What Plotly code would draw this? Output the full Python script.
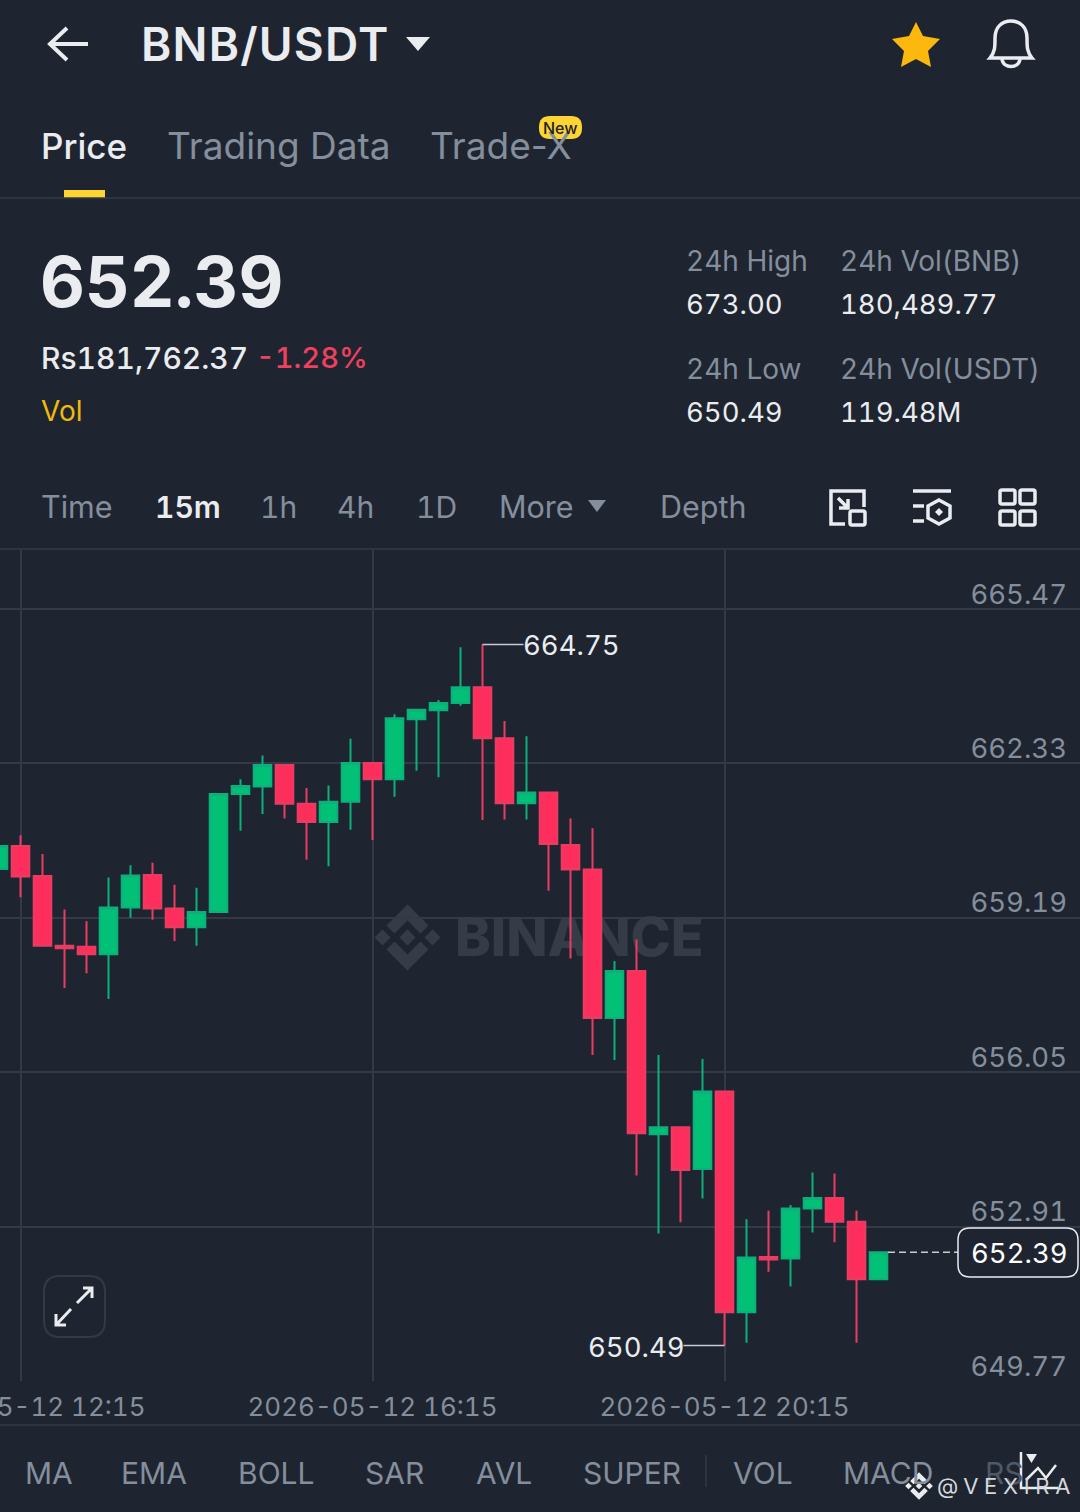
import re
import pandas as pd
import plotly.graph_objects as go

W = 1080
H = 1512

# 15m candles, the first one is cut by the left edge
opens = [660.18, 660.65, 660.04, 658.62, 658.60, 658.45, 659.40, 660.06, 659.38, 659.00, 659.31,
         661.71, 661.86, 662.30, 661.51, 661.14, 661.55, 662.34, 662.01, 663.23, 663.41,
         663.56, 663.88, 662.84, 661.52, 661.74, 660.67, 660.17, 657.15, 658.11, 654.79,
         654.93, 654.08, 655.66, 651.17, 652.29, 652.26, 653.28, 653.49, 653.01, 651.84]
highs = [660.65, 660.87, 660.49, 659.36, 659.12, 660.01, 660.26, 660.31, 659.86, 659.80, 661.73,
         662.01, 662.49, 662.30, 661.83, 661.88, 662.83, 662.34, 663.33, 663.42, 663.62,
         664.69, 664.75, 663.19, 662.88, 661.74, 661.21, 661.01, 658.31, 658.75, 656.40,
         654.93, 656.32, 655.66, 653.06, 653.23, 653.35, 654.01, 653.99, 653.23, 652.39]
lows = [660.18, 659.61, 658.62, 657.76, 658.06, 657.54, 659.19, 659.15, 658.72, 658.62, 659.31,
        660.96, 661.30, 661.21, 660.37, 660.24, 660.98, 660.77, 661.65, 662.18, 662.05,
        663.50, 661.18, 661.19, 661.19, 659.74, 658.36, 656.40, 656.30, 653.95, 652.77,
        653.00, 653.48, 650.49, 650.55, 651.99, 651.69, 652.79, 652.59, 650.55, 651.84]
closes = [660.65, 660.03, 658.62, 658.57, 658.45, 659.40, 660.05, 659.38, 659.00, 659.31, 661.71,
          661.87, 662.30, 661.51, 661.14, 661.55, 662.34, 662.01, 663.25, 663.42, 663.56,
          663.88, 662.84, 661.52, 661.74, 660.69, 660.17, 657.15, 658.11, 654.81, 654.93,
          654.06, 655.66, 651.17, 652.28, 652.24, 653.28, 653.49, 653.01, 651.84, 652.39]

times = pd.date_range("2026-05-12 12:00", periods=len(opens), freq="15min")

price_ticks = [665.47, 662.33, 659.19, 656.05, 652.91, 649.77]
price_labels = ["665.47", "662.33", "659.19", "656.05", "652.91", "649.77"]
time_ticks = ["2026-05-12 12:15", "2026-05-12 16:15", "2026-05-12 20:15"]

last_price = 652.39
top_price = 664.75
bottom_price = 650.49

# header stats
stat_names = ["24h High", "24h Low", "24h Vol(BNB)", "24h Vol(USDT)"]
stat_values = ["673.00", "650.49", "180,489.77", "119.48M"]

BG = "#1E2530"
GRID = "#333A46"
GRAY = "#848E9C"
WHITE = "#EAECEF"
UP = "#02C076"
DOWN = "#FD2E5B"
UP_WICK = "#0CB07B"
DOWN_WICK = "#EA3C62"
YELLOW = "#FCD535"
FONT = "Inter"

# screen pixel per candle is 22, candle of 12:15 sits at x=20.5
x_start = pd.Timestamp("2026-05-12 12:15") - pd.Timedelta(minutes=20.5 / 22 * 15)
x_end = pd.Timestamp("2026-05-12 12:15") + pd.Timedelta(minutes=(W - 20.5) / 22 * 15)
y_range = [649.77, 666.67]


def px(x):
    return x / W


def py(y):
    return 1 - y / H


def to_paper(d):
    # path written in screen pixels -> paper coordinates
    out = []
    is_x = True
    for tok in re.findall(r"[MLCQZ]|-?\d+\.?\d*", d):
        if tok in "MLCQZ":
            out.append(tok)
            is_x = True
        else:
            out.append(str(round(px(float(tok)), 5) if is_x else round(py(float(tok)), 5)))
            is_x = not is_x
    return " ".join(out)


def round_box(x0, y0, x1, y1, r):
    return (f"M {x0+r} {y0} L {x1-r} {y0} Q {x1} {y0} {x1} {y0+r} L {x1} {y1-r} Q {x1} {y1} {x1-r} {y1} "
            f"L {x0+r} {y1} Q {x0} {y1} {x0} {y1-r} L {x0} {y0+r} Q {x0} {y0} {x0+r} {y0} Z")


shapes = []
annotations = []


def styled(text, ls=0, tnum=False):
    css = ""
    if ls:
        css += f"letter-spacing:{ls}px;"
    if tnum:
        # tabular digits like the app font
        css += "font-feature-settings:'tnum';"
    return f'<span style="{css}">{text}</span>' if css else text


def path(d, fill=None, line=None, width=0, layer="above"):
    shapes.append(dict(type="path", path=to_paper(d), xref="paper", yref="paper", layer=layer,
                       fillcolor=fill or "rgba(0,0,0,0)",
                       line=dict(color=line or "rgba(0,0,0,0)", width=width)))


def label(text, x, y, size, color, anchor="left", weight=400, ls=0, tnum=False):
    annotations.append(dict(text=styled(text, ls, tnum), x=px(x), y=py(y), xref="paper", yref="paper",
                            showarrow=False, xanchor=anchor, yanchor="middle", borderpad=0, borderwidth=0,
                            font=dict(family=FONT, size=size, color=color, weight=weight)))


def logo(cx, cy, s, color, layer="above"):
    parts = [[(0, -33), (21, -12), (13, -4), (0, -17), (-13, -4), (-21, -12)],
             [(0, 33), (21, 12), (13, 4), (0, 17), (-13, 4), (-21, 12)],
             [(0, -8), (8, 0), (0, 8), (-8, 0)],
             [(-25, -8), (-17, 0), (-25, 8), (-33, 0)],
             [(25, -8), (33, 0), (25, 8), (17, 0)]]
    for part in parts:
        d = "M " + " L ".join(f"{cx + a * s} {cy + b * s}" for a, b in part) + " Z"
        path(d, fill=color, layer=layer)


# top bar
path("M 88 44 L 51 44 M 67 28 L 50 44 L 67 60", line=WHITE, width=4)
label("BNB/USDT", 141, 44, 46, WHITE, weight=600, ls=1.2)
path("M 406 37 L 430 37 L 418 51 Z", fill=WHITE)
path("M 916 22 L 923 36 L 940 39 L 928 51 L 931 67 L 916 59 L 901 67 L 904 51 L 892 39 L 909 36 Z", fill="#FCB80D")
path("M 990 58 C 995 52 995 47 995 38 C 995 27 1002 21 1011 21 C 1020 21 1027 27 1027 38 "
     "C 1027 47 1027 52 1032 58 Z", line=WHITE, width=3.5)
path("M 1002 59 C 1003 69 1019 69 1020 59", line=WHITE, width=3.5)

# tabs
label("Price", 41, 146, 35, WHITE, weight=500)
label("Trading Data", 167, 146, 37, GRAY)
label("Trade-X", 430, 146, 37, GRAY)
path(round_box(539, 116, 582, 139, 11), fill=YELLOW)
label("New", 560.5, 127.5, 16, "#1E2329", anchor="center", weight=500)
path("M 64 190 L 105 190 L 105 198 L 64 198 Z", fill=YELLOW)
path("M 0 198 L 1080 198", line=GRID, width=1.5)

# price block
label("652.39", 40, 282, 69.5, WHITE, weight=700, tnum=True)
label("Rs181,762.37", 41, 358, 30, WHITE, weight=500, tnum=True)
label("-1.28%", 256, 358, 29, "#F0405F", weight=500, tnum=True)
label("Vol", 41, 411, 28, "#F0B90B")
label(stat_names[0], 686, 261, 28, GRAY, tnum=True)
label(stat_values[0], 686, 304, 27.5, WHITE, tnum=True)
label(stat_names[1], 686, 369, 28, GRAY, tnum=True)
label(stat_values[1], 686, 412, 27.5, WHITE, tnum=True)
label(stat_names[2], 840, 261, 28, GRAY, tnum=True)
label(stat_values[2], 840, 304, 27.5, WHITE, tnum=True)
label(stat_names[3], 840, 369, 28, GRAY, tnum=True)
label(stat_values[3], 840, 412, 27.5, WHITE, tnum=True)

# interval row
for text, x in [("Time", 41), ("More", 499), ("Depth", 660)]:
    label(text, x, 507, 30.5, GRAY)
for text, x in [("1h", 260), ("4h", 337), ("1D", 416)]:
    label(text, x, 507, 30, GRAY, tnum=True)
label("15m", 155, 507, 30, WHITE, weight=600, tnum=True)
path("M 588 500 L 606 500 L 597 512 Z", fill=GRAY)
path("M 864 507 L 864 491 L 831 491 L 831 524 L 845 524", line=WHITE, width=3.5)
path("M 838 498 L 848 508 M 848 499 L 848 508 L 839 508", line=WHITE, width=3.5)
path(round_box(850, 511, 865, 525, 2), line=WHITE, width=3.5)
path("M 913 491 L 951 491 M 913 506 L 924 506 M 913 521 L 924 521", line=WHITE, width=3.5)
path("M 939 500 L 950 506 L 950 518 L 939 524 L 928 518 L 928 506 Z", line=WHITE, width=3.5)
path("M 939 508 L 943 512 L 939 516 L 935 512 Z", fill=WHITE)
for bx, by in [(1000, 490), (1020, 490), (1000, 511), (1020, 511)]:
    path(round_box(bx, by, bx + 15, by + 14, 2), line=WHITE, width=3.5)
path("M 0 549 L 1080 549", line=GRID, width=1.5)

# chart extras
logo(407.5, 937.5, 1.0, "#363C47", layer="below")
path(round_box(44, 1276, 105, 1337, 16), line="#333A46", width=2)
path("M 77 1303 L 92 1288 M 83 1288 L 92 1288 L 92 1298", line=WHITE, width=3)
path("M 71 1309 L 56 1325 M 56 1314 L 56 1325 L 66 1325", line=WHITE, width=3)

# high / low leaders
step = pd.Timedelta(minutes=15) / 22
shapes.append(dict(type="line", xref="x", yref="y", x0=times[22], x1=times[22] + step * 41,
                   y0=top_price, y1=top_price, line=dict(color="#C8CCD2", width=1.5)))
shapes.append(dict(type="line", xref="x", yref="y", x0=times[33] - step * 41, x1=times[33],
                   y0=bottom_price, y1=bottom_price, line=dict(color="#C8CCD2", width=1.5)))
annotations.append(dict(text=styled(f"{top_price:.2f}", tnum=True), x=times[22], y=top_price, xref="x", yref="y",
                        showarrow=False, xanchor="left", xshift=39, yshift=-1, borderpad=0,
                        font=dict(family=FONT, size=27.5, color=WHITE)))
annotations.append(dict(text=styled(f"{bottom_price:.2f}", tnum=True), x=times[33], y=bottom_price, xref="x", yref="y",
                        showarrow=False, xanchor="right", xshift=-39, yshift=-1, borderpad=0,
                        font=dict(family=FONT, size=27.5, color=WHITE)))

# last price
shapes.append(dict(type="line", xref="paper", yref="y", x0=px(888), x1=px(958), y0=last_price, y1=last_price,
                   line=dict(color="#C8CCD2", width=1.5, dash="7px,4px")))
path(round_box(958, 1228, 1078, 1277, 12), fill=BG, line=WHITE, width=1.5)
label(f"{last_price:.2f}", 1019, 1252.5, 27.5, "#FFFFFF", anchor="center", tnum=True)

# indicator row
path("M 0 1425 L 1080 1425", line=GRID, width=1.5)
for text, x in [("MA", 25), ("EMA", 121), ("BOLL", 238), ("SAR", 365), ("AVL", 476), ("SUPER", 583),
                ("VOL", 733), ("MACD", 843)]:
    label(text, x, 1473, 30, GRAY)
label("RS", 985, 1473, 30, "#4F5866")
path("M 706 1455 L 706 1487", line=GRID, width=1.5)

# corner stamp
logo(919, 1486, 0.42, "#EAECEF")
label("@VEXIRA", 937, 1486, 22, "#D5D8DC", ls=5.7)
path("M 1021 1452 L 1021 1488 L 1058 1488", line=WHITE, width=2.5)
path("M 1026 1454 L 1037 1454 L 1031.5 1463 Z", fill=WHITE)
path("M 1026 1480 L 1038 1468 L 1046 1478 L 1056 1465", line=WHITE, width=2.5)

fig = go.Figure()

# watermark sits on the lower axes so the candles stay over it
fig.add_trace(go.Scatter(x=[times[26] + pd.Timedelta(minutes=6)], y=[658.68], mode="text", text=["BINANCE"],
                         xaxis="x", yaxis="y", textposition="middle center", hoverinfo="skip", showlegend=False,
                         textfont=dict(family=FONT, size=54, color="#363C47", weight=800)))

fig.add_trace(go.Candlestick(x=times, open=opens, high=highs, low=lows, close=closes, xaxis="x", yaxis="y2",
                             increasing=dict(fillcolor=UP, line=dict(color=UP_WICK, width=2)),
                             decreasing=dict(fillcolor=DOWN, line=dict(color=DOWN_WICK, width=2)),
                             showlegend=False, hoverinfo="skip"))

fig.update_layout(
    width=W, height=H,
    margin=dict(l=0, r=0, t=0, b=0, pad=0),
    paper_bgcolor=BG, plot_bgcolor=BG,
    showlegend=False,
    boxgap=0.2, boxgroupgap=0,
    shapes=shapes, annotations=annotations,
    xaxis=dict(type="date", range=[x_start, x_end], domain=[0, 1], rangeslider=dict(visible=False),
               automargin=False, tickmode="array", tickvals=time_ticks,
               ticktext=[styled(t, tnum=True) for t in time_ticks], showgrid=True,
               gridcolor=GRID, gridwidth=1.5, zeroline=False, showline=False, ticks="", ticklabelstandoff=8,
               ticklabeloverflow="allow", tickfont=dict(family=FONT, size=26, color=GRAY)),
    yaxis=dict(range=y_range, domain=[1 - 1381 / H, 1 - 550 / H], side="right", tickmode="array",
               automargin=False, tickvals=price_ticks, ticktext=[styled(t, tnum=True) for t in price_labels],
               showgrid=True, gridcolor=GRID,
               gridwidth=1.5, zeroline=False, showline=False, ticks="", ticklabelposition="inside",
               ticklabelshift=-15, ticklabelstandoff=10, ticklabeloverflow="allow",
               tickfont=dict(family=FONT, size=27.5, color=GRAY)),
    yaxis2=dict(range=y_range, domain=[1 - 1381 / H, 1 - 550 / H], overlaying="y", side="right", visible=False),
)

fig.write_html("out.html", post_script="document.body.style.margin='0';", config=dict(displayModeBar=False))
